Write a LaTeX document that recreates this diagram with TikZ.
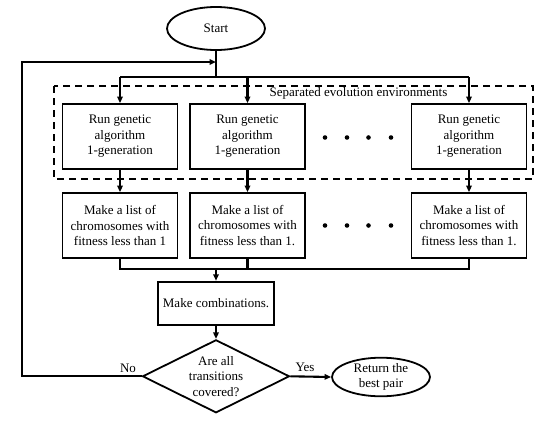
\documentclass[tikz,border=0pt]{standalone}
\usepackage{fontspec}
\setmainfont{Liberation Serif}
\usetikzlibrary{shapes.geometric,arrows.meta}
\newcommand\tf{\fontsize{13}{15.5}\selectfont}
\begin{document}
\begin{tikzpicture}[x=1pt,y=-1pt,
  box/.style={draw, line width=1.8pt, minimum width=115pt, minimum height=65pt, align=center, inner sep=0pt, font=\tf},
  oval/.style={draw, ellipse, line width=1.8pt, align=center, inner sep=0pt, font=\tf},
  conn/.style={line width=2.1pt},
  arr/.style={conn, -{Triangle[length=6.5pt,width=5.5pt]}},
  lbl/.style={font=\tf, inner sep=0pt},
  envbox/.style={draw, line width=1.6pt, dash pattern=on 7pt off 5pt},
  dotmark/.style={fill=black}
]
\useasboundingbox (0,0) rectangle (550,421);
\fill[white] (0,0) rectangle (550,421);

\node[oval, minimum width=98pt, minimum height=43pt] (start) at (216,28.5) {Start};
\coordinate (j1) at (216,62);
\coordinate (j2) at (216,77);

\draw[envbox] (54,86) rectangle (533,179);
\node[lbl] (envlabel) at (358.5,93.5) {Separated evolution environments};

\node[box] (r1a) at (120,136.5) {Run genetic\\algorithm\\1-generation};
\node[box] (r1b) at (247.5,136.5) {Run genetic\\algorithm\\1-generation};
\node[box] (r1c) at (469,136.5) {Run genetic\\algorithm\\1-generation};

\node[box] (r2a) at (120,225.5) {Make a list of\\chromosomes with\\fitness less than 1};
\node[box] (r2b) at (247.5,225.5) {Make a list of\\chromosomes with\\fitness less than 1.};
\node[box] (r2c) at (469,225.5) {Make a list of\\chromosomes with\\fitness less than 1.};

\foreach \xx in {325,347,368.5,391}{
  \fill[dotmark] (\xx,137.5) circle (2.3pt);
  \fill[dotmark] (\xx,225.5) circle (2.3pt);
}

\coordinate (j3) at (216,269);
\node[box, minimum width=116pt, minimum height=43.3pt] (comb) at (216,303.3) {Make combinations.};
\node[draw, diamond, line width=1.8pt, align=center, inner sep=0pt, font=\tf, aspect=2,
      minimum width=147pt, minimum height=73pt] (dec) at (216,376.3) {Are all\\transitions\\covered?};
\node[oval, minimum width=98pt, minimum height=36pt] (ret) at (381,377) {Return the\\best pair};

\coordinate (loopA) at (21.7,376.3);
\coordinate (loopB) at (21.7,62);

% top connectors
\draw[conn] (start.south) -- (j2);
\draw[conn] (r1a.north |- j2) -- (r1c.north |- j2);
\draw[arr] (r1a.north |- j2) -- (r1a.north);
\draw[arr] (r1b.north |- j2) -- (r1b.north);
\draw[arr] (r1c.north |- j2) -- (r1c.north);

\draw[arr] (r1a.south) -- (r2a.north);
\draw[arr] (r1b.south) -- (r2b.north);
\draw[arr] (r1c.south) -- (r2c.north);

\draw[conn] (r2a.south) -- (r2a.south |- j3) -- (r2c.south |- j3) -- (r2c.south);
\draw[conn] (r2b.south) -- (r2b.south |- j3);
\draw[arr] (j3) -- (comb.north);
\draw[arr] (comb.south) -- (dec.north);

\draw[arr] (dec.east) -- (ret.west);
\node[lbl] (yes) at (305,367) {Yes};

\draw[arr] (dec.west) -- (loopA) -- (loopB) -- (j1);
\node[lbl] (no) at (128,368) {No};
\end{tikzpicture}
\end{document}
